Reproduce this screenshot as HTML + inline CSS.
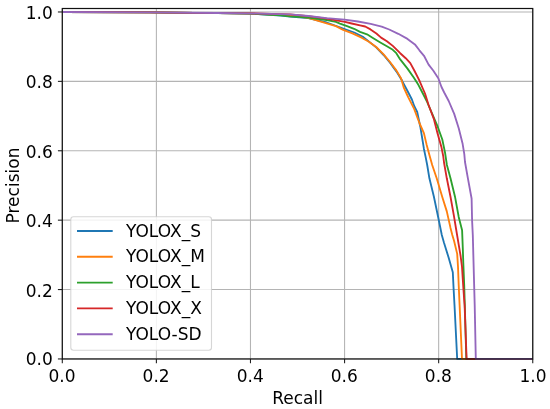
<!DOCTYPE html>
<html><head><meta charset="utf-8"><title>Precision-Recall</title>
<style>
html,body{margin:0;padding:0;background:#fff;}
body{width:550px;height:409px;overflow:hidden;}
svg{display:block;}
text{font-family:"DejaVu Sans","Liberation Sans",sans-serif;font-size:17.00px;fill:#000;}
</style></head><body>
<svg width="550" height="409" viewBox="0 0 550 409">
<rect x="0" y="0" width="550" height="409" fill="#ffffff"/>
<defs><clipPath id="ax"><rect x="62.30" y="8.50" width="470.45" height="351.25"/></clipPath></defs>
<g stroke="#b4b4b4" stroke-width="1.08" fill="none">
<line x1="62.30" y1="8.50" x2="62.30" y2="358.95"/>
<line x1="62.30" y1="358.95" x2="532.75" y2="358.95"/>
<line x1="156.39" y1="8.50" x2="156.39" y2="358.95"/>
<line x1="62.30" y1="289.55" x2="532.75" y2="289.55"/>
<line x1="250.48" y1="8.50" x2="250.48" y2="358.95"/>
<line x1="62.30" y1="220.16" x2="532.75" y2="220.16"/>
<line x1="344.57" y1="8.50" x2="344.57" y2="358.95"/>
<line x1="62.30" y1="150.76" x2="532.75" y2="150.76"/>
<line x1="438.66" y1="8.50" x2="438.66" y2="358.95"/>
<line x1="62.30" y1="81.37" x2="532.75" y2="81.37"/>
<line x1="532.75" y1="8.50" x2="532.75" y2="358.95"/>
<line x1="62.30" y1="11.97" x2="532.75" y2="11.97"/>
</g>
<g fill="none" stroke-width="1.85" stroke-linejoin="round" stroke-linecap="butt" clip-path="url(#ax)">
<polyline stroke="#1f77b4" points="62.4,12.0 150.0,12.4 217.0,13.2 250.0,13.6 281.0,15.7 290.0,16.7 308.3,18.2 326.7,22.5 343.2,28.5 354.2,32.5 363.4,37.1 376.2,47.4 383.6,55.0 390.0,62.7 396.5,71.6 402.0,80.6 406.3,88.8 409.6,95.0 411.9,99.5 414.2,106.0 417.2,112.0 420.3,126.7 422.1,137.7 423.9,148.7 425.8,157.9 427.2,165.0 429.4,178.3 433.9,196.7 438.5,218.7 441.8,235.0 444.0,242.8 448.6,257.5 452.8,272.2 453.6,288.7 454.5,305.0 457.2,359.0 532.9,359.0"/>
<polyline stroke="#ff7f0e" points="62.4,12.0 150.0,12.3 217.0,13.1 250.0,13.4 281.0,14.8 290.0,15.1 308.3,17.8 317.5,20.6 326.7,23.3 335.9,26.1 343.2,29.8 352.4,33.4 361.6,37.7 368.9,41.7 376.2,47.0 383.6,54.4 390.0,62.0 396.5,70.6 401.1,78.4 403.9,87.9 407.2,95.0 408.3,97.3 413.9,108.3 419.4,123.0 423.9,133.1 426.7,145.0 429.4,155.1 432.2,165.0 436.7,178.3 442.2,196.7 446.8,211.4 450.5,227.9 452.3,235.0 454.1,241.0 457.2,253.9 458.0,266.7 458.7,285.0 459.6,305.0 462.0,359.0 532.9,359.0"/>
<polyline stroke="#2ca02c" points="62.4,12.0 150.0,12.4 217.0,13.2 250.0,13.6 281.0,15.4 290.0,16.4 308.3,17.5 326.7,20.0 335.9,21.9 340.0,23.6 347.0,26.2 354.1,28.8 360.0,31.9 367.0,34.3 372.9,38.0 379.9,42.2 386.9,46.3 392.8,49.8 396.3,53.2 400.2,59.4 407.5,68.6 413.9,77.8 418.5,85.1 422.6,93.0 426.7,101.0 432.2,113.9 437.7,126.7 442.3,139.5 445.0,152.4 446.9,165.0 450.5,178.3 455.0,196.7 458.7,216.9 462.1,230.3 462.4,238.0 462.8,248.3 463.3,263.0 464.2,285.0 464.8,305.0 466.3,359.0 532.9,359.0"/>
<polyline stroke="#d62728" points="62.4,12.0 150.0,12.3 217.0,13.1 250.0,13.3 290.0,14.4 308.3,16.2 326.7,18.6 337.7,20.7 345.0,21.9 351.7,23.5 360.0,25.3 365.2,26.5 370.5,29.4 376.4,33.5 381.1,37.6 386.9,41.2 392.8,45.9 400.2,53.2 405.7,58.2 410.3,63.1 414.3,70.5 419.2,80.2 422.8,88.5 425.0,93.5 428.5,104.7 434.0,119.4 437.7,134.0 441.4,146.9 443.2,156.0 444.1,163.0 446.8,178.3 450.5,196.7 454.1,216.9 456.0,228.5 458.7,244.7 460.6,256.0 462.0,266.6 462.8,279.4 463.5,290.0 464.2,300.0 464.6,305.0 466.6,359.0 532.9,359.0"/>
<polyline stroke="#9467bd" points="62.4,12.0 150.0,12.3 217.0,13.0 250.0,13.3 270.0,13.8 290.0,14.3 308.3,16.0 326.7,18.2 344.5,19.7 357.9,21.5 370.7,23.9 381.7,26.7 389.2,29.5 398.3,33.8 407.5,38.9 414.9,44.4 419.4,50.3 424.0,55.8 428.6,64.6 433.2,70.5 438.3,78.3 441.5,87.0 444.2,92.5 448.7,101.0 454.2,113.9 458.8,128.5 462.5,143.2 464.3,154.2 465.0,162.0 467.9,178.3 471.6,198.5 472.1,220.6 472.8,235.0 473.4,257.5 474.3,290.6 474.7,305.0 475.8,359.0 532.9,359.0"/>
</g>
<g stroke="#222" stroke-width="1.1" fill="none">
<line x1="62.30" y1="358.95" x2="62.30" y2="363.25"/>
<line x1="57.90" y1="358.95" x2="62.30" y2="358.95"/>
<line x1="156.39" y1="358.95" x2="156.39" y2="363.25"/>
<line x1="57.90" y1="289.55" x2="62.30" y2="289.55"/>
<line x1="250.48" y1="358.95" x2="250.48" y2="363.25"/>
<line x1="57.90" y1="220.16" x2="62.30" y2="220.16"/>
<line x1="344.57" y1="358.95" x2="344.57" y2="363.25"/>
<line x1="57.90" y1="150.76" x2="62.30" y2="150.76"/>
<line x1="438.66" y1="358.95" x2="438.66" y2="363.25"/>
<line x1="57.90" y1="81.37" x2="62.30" y2="81.37"/>
<line x1="532.75" y1="358.95" x2="532.75" y2="363.25"/>
<line x1="57.90" y1="11.97" x2="62.30" y2="11.97"/>
</g>
<rect x="62.30" y="8.50" width="470.45" height="350.45" fill="none" stroke="#111" stroke-width="1.2"/>
<text x="62.00" y="381.90" text-anchor="middle">0.0</text>
<text x="52.80" y="365.30" text-anchor="end">0.0</text>
<text x="156.09" y="381.90" text-anchor="middle">0.2</text>
<text x="52.80" y="296.55" text-anchor="end">0.2</text>
<text x="250.18" y="381.90" text-anchor="middle">0.4</text>
<text x="52.80" y="226.76" text-anchor="end">0.4</text>
<text x="344.27" y="381.90" text-anchor="middle">0.6</text>
<text x="52.80" y="157.81" text-anchor="end">0.6</text>
<text x="438.36" y="381.90" text-anchor="middle">0.8</text>
<text x="52.80" y="87.97" text-anchor="end">0.8</text>
<text x="532.95" y="381.90" text-anchor="middle">1.0</text>
<text x="52.80" y="18.57" text-anchor="end">1.0</text>
<text x="297.52" y="403.80" text-anchor="middle">Recall</text>
<text transform="translate(18.60,185.53) rotate(-90)" text-anchor="middle">Precision</text>
<rect x="70.8" y="216.8" width="140.7" height="133.5" rx="2.7" ry="2.7" fill="#ffffff" fill-opacity="0.84" stroke="#cccccc" stroke-opacity="0.8" stroke-width="1.1"/>
<line x1="77.0" y1="231.00" x2="112.7" y2="231.00" stroke="#1f77b4" stroke-width="1.85"/>
<text x="126.0" y="236.50">YOLOX_S</text>
<line x1="77.0" y1="256.80" x2="112.7" y2="256.80" stroke="#ff7f0e" stroke-width="1.85"/>
<text x="126.0" y="262.30">YOLOX_M</text>
<line x1="77.0" y1="282.60" x2="112.7" y2="282.60" stroke="#2ca02c" stroke-width="1.85"/>
<text x="126.0" y="288.10">YOLOX_L</text>
<line x1="77.0" y1="308.40" x2="112.7" y2="308.40" stroke="#d62728" stroke-width="1.85"/>
<text x="126.0" y="313.90">YOLOX_X</text>
<line x1="77.0" y1="334.20" x2="112.7" y2="334.20" stroke="#9467bd" stroke-width="1.85"/>
<text x="126.0" y="339.70">YOLO-SD</text>
</svg>
</body></html>
